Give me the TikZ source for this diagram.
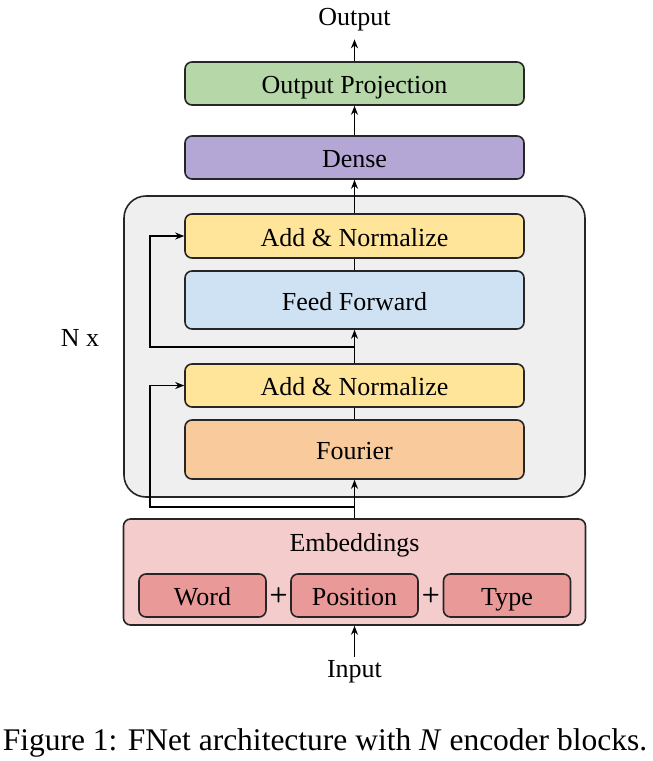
\documentclass[tikz,border=0pt]{standalone}
\usepackage{fontspec}
\setmainfont{Liberation Serif}
\usetikzlibrary{calc,arrows.meta}
\definecolor{projgreen}{HTML}{B6D7A8}
\definecolor{densepurple}{HTML}{B4A7D6}
\definecolor{normyellow}{HTML}{FFE599}
\definecolor{ffblue}{HTML}{CFE2F3}
\definecolor{fourierorange}{HTML}{F9CB9C}
\definecolor{embpink}{HTML}{F4CCCC}
\definecolor{tokred}{HTML}{EA9999}
\definecolor{blockgray}{HTML}{EFEFEF}
\begin{document}
\begin{tikzpicture}[x=1pt,y=-1pt,>={Stealth[length=9pt,width=7pt]},line width=1.6pt,
		font=\fontsize{26}{30}\selectfont,
		box/.style={draw=black!85,rounded corners=7pt,inner sep=0pt,minimum width=339pt,minimum height=43pt,text height=22pt,text depth=2pt},
		tok/.style={box,fill=tokred,minimum width=127pt},
		lbl/.style={anchor=base,inner sep=2pt},
		plus/.style={font=\fontsize{21}{24}\sffamily\bfseries}]
				\useasboundingbox (0,0) rectangle (653,761);
				% encoder block
				\node[draw=black!85,fill=blockgray,rounded corners=22pt,minimum width=461pt,minimum height=301pt] (block) at (354.5,346.5) {};
				\node[lbl] (nx) at (80,346) {N x};
				\node[box,fill=projgreen] (op) at (354.5,83.5) {Output Projection};
				\node[box,fill=densepurple] (dense) at (354.5,157.5) {Dense};
				\node[box,fill=normyellow,minimum height=44pt] (an2) at (354.5,236) {Add \& Normalize};
				\node[box,fill=ffblue,minimum height=58pt] (ff) at (354.5,300) {Feed Forward};
				\node[box,fill=normyellow] (an1) at (354.5,385.5) {Add \& Normalize};
				\node[box,fill=fourierorange,minimum height=59pt] (fourier) at (354.5,449.5) {Fourier};
				% embeddings
				\node[box,fill=embpink,minimum width=462pt,minimum height=106pt] (emb) at (354.5,572) {};
				\node[lbl] (embtxt) at (354.5,551.5) {Embeddings};
				\node[tok] (word) at (202.5,595.5) {Word};
				\node[tok] (pos) at (354.5,595.5) {Position};
				\node[tok] (type) at (507,595.5) {Type};
				\node[plus] at ($(word.east)!0.5!(pos.west)$) {+};
				\node[plus] at ($(pos.east)!0.5!(type.west)$) {+};
				\node[lbl] (in) at (354.5,677) {Input};
				\node[lbl,inner sep=8pt] (out) at (354.5,25) {Output};
				% connections
				\coordinate (r1) at (354.5,507);
				\coordinate (r1l) at (150,507);
				\coordinate (r2) at (354.5,347);
				\coordinate (r2l) at (150,347);
				\draw[->] (in) -- (emb);
				\draw[->] (emb) -- (fourier);
				\draw (fourier) -- (an1);
				\draw[->] (an1) -- (ff);
				\draw (ff) -- (an2);
				\draw[->] (an2) -- (dense);
				\draw[->] (dense) -- (op);
				\draw[->] (op) -- (out);
				\draw[->] (r1) -- (r1l) |- (an1.west);
				\draw[->] (r2) -- (r2l) |- (an2.west);
				\node[lbl,font=\fontsize{31.5}{36}\selectfont] (caption) at (325,750) {Figure 1: FNet architecture with \textit{N} encoder blocks.};
			\end{tikzpicture}
\end{document}
